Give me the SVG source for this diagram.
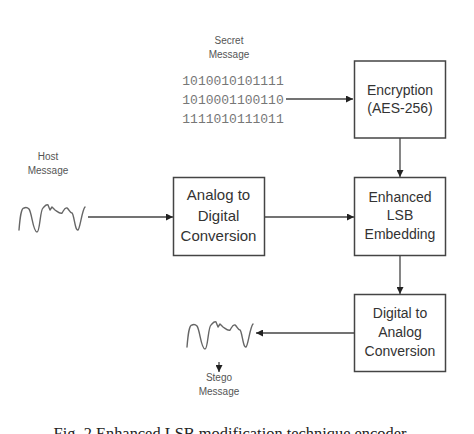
<svg xmlns="http://www.w3.org/2000/svg" width="474" height="434" viewBox="0 0 474 434">
<style>
.box{fill:#fff;stroke:#444;stroke-width:1.5}
.t{font-family:"Liberation Sans",Arial,sans-serif;fill:#333;text-anchor:middle}
.big{font-size:15px}
.mid{font-size:14px}
.sm{font-size:10px;fill:#555}
.bin{font-family:"Liberation Mono","Courier New",monospace;font-size:13px;fill:#777;text-anchor:middle}
.c{stroke:#444;stroke-width:1.3;fill:none}
.w{stroke:#666;stroke-width:1.4;fill:none;stroke-linejoin:round;stroke-linecap:round}
</style>
<defs>
<marker id="ah" viewBox="0 0 10 10" refX="10" refY="5" markerWidth="7" markerHeight="7" markerUnits="userSpaceOnUse" orient="auto">
<path d="M0,0 L10,5 L0,10 z" fill="#222"/>
</marker>
<path id="wave" d="M19,230 C20,218 21,208 24,208 C26,207 27,207 29,209 C32,213 33,232 37,232 C40,232 40,210 43,208 C45,206 46,204 48,205 L50,210 L52,207 L55,210 C58,212 60,214 62,213 C64,210 65,207 67,208 C69,209 70,213 72,213 C74,214 75,231 78,230 C80,229 82,210 85,207"/>
</defs>
<rect width="474" height="434" fill="#fff"/>
<g id="connectors">
<line class="c" x1="286" y1="99" x2="353" y2="99" marker-end="url(#ah)"/>
<line class="c" x1="400" y1="138" x2="400" y2="177" marker-end="url(#ah)"/>
<line class="c" x1="88" y1="217" x2="173" y2="217" marker-end="url(#ah)"/>
<line class="c" x1="264" y1="217" x2="354" y2="217" marker-end="url(#ah)"/>
<line class="c" x1="400" y1="256" x2="400" y2="294" marker-end="url(#ah)"/>
<line class="c" x1="354" y1="333" x2="256" y2="333" marker-end="url(#ah)"/>
<line class="c" x1="219" y1="362" x2="219" y2="372" marker-end="url(#ah)"/>
</g>
<g id="secret-message">
<text class="t sm" x="229" y="44">Secret</text>
<text class="t sm" x="229" y="58">Message</text>
<text class="bin" x="233" y="85">1010010101111</text>
<text class="bin" x="233" y="104">1010001100110</text>
<text class="bin" x="233" y="123">1111010111011</text>
</g>
<g id="encryption">
<rect class="box" x="354.5" y="61" width="91" height="77"/>
<text class="t mid" x="400" y="95">Encryption</text>
<text class="t mid" x="400" y="113">(AES-256)</text>
</g>
<g id="host-message">
<text class="t sm" x="48" y="160">Host</text>
<text class="t sm" x="48" y="174">Message</text>
<use href="#wave" class="w"/>
</g>
<g id="adc">
<rect class="box" x="173.5" y="177.5" width="91" height="78"/>
<text class="t big" x="218.5" y="200">Analog to</text>
<text class="t big" x="218.5" y="221">Digital</text>
<text class="t big" x="218.5" y="241">Conversion</text>
</g>
<g id="lsb">
<rect class="box" x="354.5" y="177.5" width="91" height="78"/>
<text class="t mid" x="400" y="202">Enhanced</text>
<text class="t mid" x="400" y="220">LSB</text>
<text class="t mid" x="400" y="239">Embedding</text>
</g>
<g id="dac">
<rect class="box" x="354.5" y="294.5" width="91" height="77"/>
<text class="t mid" x="400" y="318">Digital to</text>
<text class="t mid" x="400" y="337">Analog</text>
<text class="t mid" x="400" y="356">Conversion</text>
</g>
<g id="stego-message">
<use href="#wave" class="w" transform="translate(168,117)"/>
<text class="t sm" x="219" y="381">Stego</text>
<text class="t sm" x="219" y="395">Message</text>
</g>
<text x="230" y="439" font-family="'Liberation Serif','Times New Roman',serif" font-size="16.4" fill="#222" text-anchor="middle">Fig. 2 Enhanced LSB modification technique encoder</text>
</svg>
